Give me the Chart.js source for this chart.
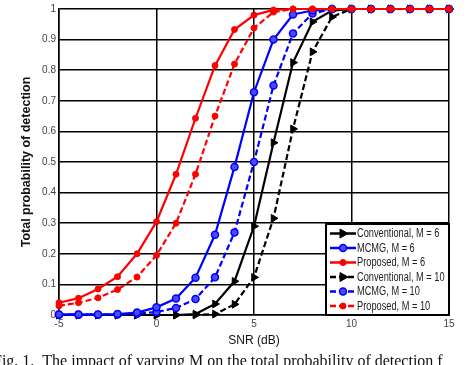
<!DOCTYPE html>
<html>
<head>
<meta charset="utf-8">
<script src="https://cdn.jsdelivr.net/npm/chart.js@4/dist/chart.umd.min.js"></script>
<style>
  html, body { margin: 0; padding: 0; background: #fff; }
  #wrap { position: relative; width: 474px; height: 365px; overflow: hidden; }
  #caption {
    position: absolute; left: -7px; top: 352px; white-space: nowrap;
    font-family: "Liberation Serif", "DejaVu Serif", serif; font-size: 16px; color: #111;
  }
</style>
</head>
<body>
<div id="wrap">
  <canvas id="chart" width="474" height="365"></canvas>
  <div id="caption">Fig. 1.&nbsp;&nbsp;The impact of varying M on the total probability of detection f</div>
</div>
<script>
// SNR in dB
const snr = [-5, -4, -3, -2, -1, 0, 1, 2, 3, 4, 5, 6, 7, 8, 9, 10, 11, 12, 13, 14, 15]

// total probability of detection
const conv6  = [0, 0, 0, 0, 0, 0, 0, 0.003, 0.036, 0.11, 0.29, 0.563, 0.825, 0.958, 0.995, 1, 1, 1, 1, 1, 1]
const mcmg6  = [0.002, 0.002, 0.002, 0.003, 0.008, 0.025, 0.054, 0.122, 0.262, 0.484, 0.728, 0.9, 0.982, 0.995, 1, 1, 1, 1, 1, 1, 1]
const prop6  = [0.04, 0.055, 0.085, 0.125, 0.2, 0.305, 0.46, 0.643, 0.815, 0.933, 0.98, 0.997, 1, 1, 1, 1, 1, 1, 1, 1, 1]
const conv10 = [0, 0, 0, 0, 0, 0, 0, 0, 0.003, 0.035, 0.123, 0.316, 0.608, 0.86, 0.974, 1, 1, 1, 1, 1, 1]
const mcmg10 = [0.001, 0.001, 0.001, 0.002, 0.004, 0.01, 0.023, 0.052, 0.123, 0.27, 0.5, 0.75, 0.92, 0.985, 1, 1, 1, 1, 1, 1, 1]
const prop10 = [0.03, 0.04, 0.056, 0.083, 0.124, 0.195, 0.3, 0.46, 0.65, 0.82, 0.938, 0.99, 1, 1, 1, 1, 1, 1, 1, 1, 1]

const seriesNames = ['Conventional, M = 6', 'MCMG, M = 6', 'Proposed, M = 6',
                     'Conventional, M = 10', 'MCMG, M = 10', 'Proposed, M = 10']
const seriesValues = [conv6, mcmg6, prop6, conv10, mcmg10, prop10]

const xTicks = [-5, 0, 5, 10, 15]

const DASH = [6, 3]

function styleFor(i) {
    const kind = i % 3
    const dashed = i >= 3
    if (kind == 0) {
        return { color: '#000', fill: '#000', point: 'triangle', radius: 4.5, rot: 90, bw: 1, order: 2, dashed }
    } else if (kind == 1) {
        return { color: '#0000ff', fill: '#4a4aff', point: 'circle', radius: 3.5, rot: 0, bw: 1.5, order: 1, dashed }
    }
    return { color: '#ff0000', fill: '#ff0000', point: 'circle', radius: 3, rot: 0, bw: 1, order: 0, dashed }
}

const datasets = seriesValues.map(function(vals, i) {
    const s = styleFor(i)
    return {
        label: seriesNames[i],
        data: vals.map((v, k) => ({ x: snr[k], y: v })),
        borderColor: s.color,
        backgroundColor: s.fill,
        borderWidth: 2.2,
        borderDash: s.dashed ? DASH : [],
        pointStyle: s.point,
        pointRadius: s.radius,
        pointRotation: s.rot,
        pointBorderColor: s.color,
        pointBackgroundColor: s.fill,
        pointBorderWidth: s.bw,
        tension: 0,
        clip: false,
        order: s.order
    }
})

// legend drawn inside the plot, lower right corner
const insideLegend = {
    id: 'insideLegend',
    afterDatasetsDraw(chart) {
        const ctx = chart.ctx
        const area = chart.chartArea
        const w = 123, h = 91
        const x0 = area.right - w, y0 = area.bottom - h
        ctx.save()
        ctx.fillStyle = '#fff'
        ctx.fillRect(x0, y0, w, h)
        ctx.lineWidth = 2
        ctx.strokeStyle = '#000'
        ctx.strokeRect(x0, y0, w, h)
        seriesNames.forEach(function(name, i) {
            const s = styleFor(i)
            const y = y0 + 9.5 + i * 14.5
            ctx.setLineDash(s.dashed ? DASH : [])
            ctx.strokeStyle = s.color
            ctx.lineWidth = 2.5
            ctx.beginPath()
            ctx.moveTo(x0 + 4, y)
            ctx.lineTo(x0 + 30, y)
            ctx.stroke()
            ctx.setLineDash([])
            const mx = x0 + 17
            ctx.fillStyle = s.fill
            ctx.strokeStyle = s.color
            ctx.lineWidth = s.bw
            ctx.beginPath()
            if (s.point == 'triangle') {
                const r = s.radius + 0.5
                ctx.moveTo(mx + r, y)
                ctx.lineTo(mx - r * 0.6, y - r * 0.9)
                ctx.lineTo(mx - r * 0.6, y + r * 0.9)
                ctx.closePath()
            } else {
                ctx.arc(mx, y, s.radius, 0, Math.PI * 2)
            }
            ctx.fill()
            ctx.stroke()
            // condensed text, like the narrow font in the figure
            ctx.save()
            ctx.translate(x0 + 31, y + 0.5)
            ctx.scale(0.77, 1)
            ctx.font = '12px Arial, "Liberation Sans", sans-serif'
            ctx.textBaseline = 'middle'
            ctx.textAlign = 'left'
            ctx.fillStyle = '#222'
            ctx.fillText(name, 0, 0)
            ctx.restore()
        })
        ctx.restore()
    }
}

const gridStyle = { color: '#000', lineWidth: 1.5, drawTicks: false }
const tickFont = { family: 'Arial, "Liberation Sans", sans-serif', size: 10 }

new Chart(document.getElementById('chart'), {
    type: 'line',
    data: { datasets: datasets },
    options: {
        responsive: false,
        animation: false,
        layout: { padding: { left: 0, top: 6, right: 25, bottom: 13 } },
        plugins: { legend: { display: false }, tooltip: { enabled: false } },
        scales: {
            x: {
                type: 'linear',
                min: -5, max: 15,
                afterBuildTicks: s => { s.ticks = xTicks.map(v => ({ value: v })) },
                afterFit: s => { s.height = 37 },
                grid: gridStyle,
                border: { color: '#000', width: 1.5 },
                ticks: { font: tickFont, color: '#444', padding: 3, maxRotation: 0 },
                title: {
                    display: true, text: 'SNR (dB)', color: '#111',
                    font: { family: 'Arial, "Liberation Sans", sans-serif', size: 12 },
                    padding: { top: 0, bottom: 4 }
                }
            },
            y: {
                min: 0, max: 1,
                afterFit: s => { s.width = 59 },
                grid: gridStyle,
                border: { color: '#000', width: 1.5 },
                ticks: {
                    stepSize: 0.1, font: tickFont, color: '#444', padding: 3,
                    callback: v => String(Number(v.toFixed(1)))
                },
                title: {
                    display: true, text: 'Total probability of detection', color: '#111',
                    font: { family: 'Arial, "Liberation Sans", sans-serif', size: 12.5, weight: 'bold' },
                    padding: { top: 19, bottom: 4 }
                }
            }
        }
    },
    plugins: [insideLegend]
})
</script>
</body>
</html>
